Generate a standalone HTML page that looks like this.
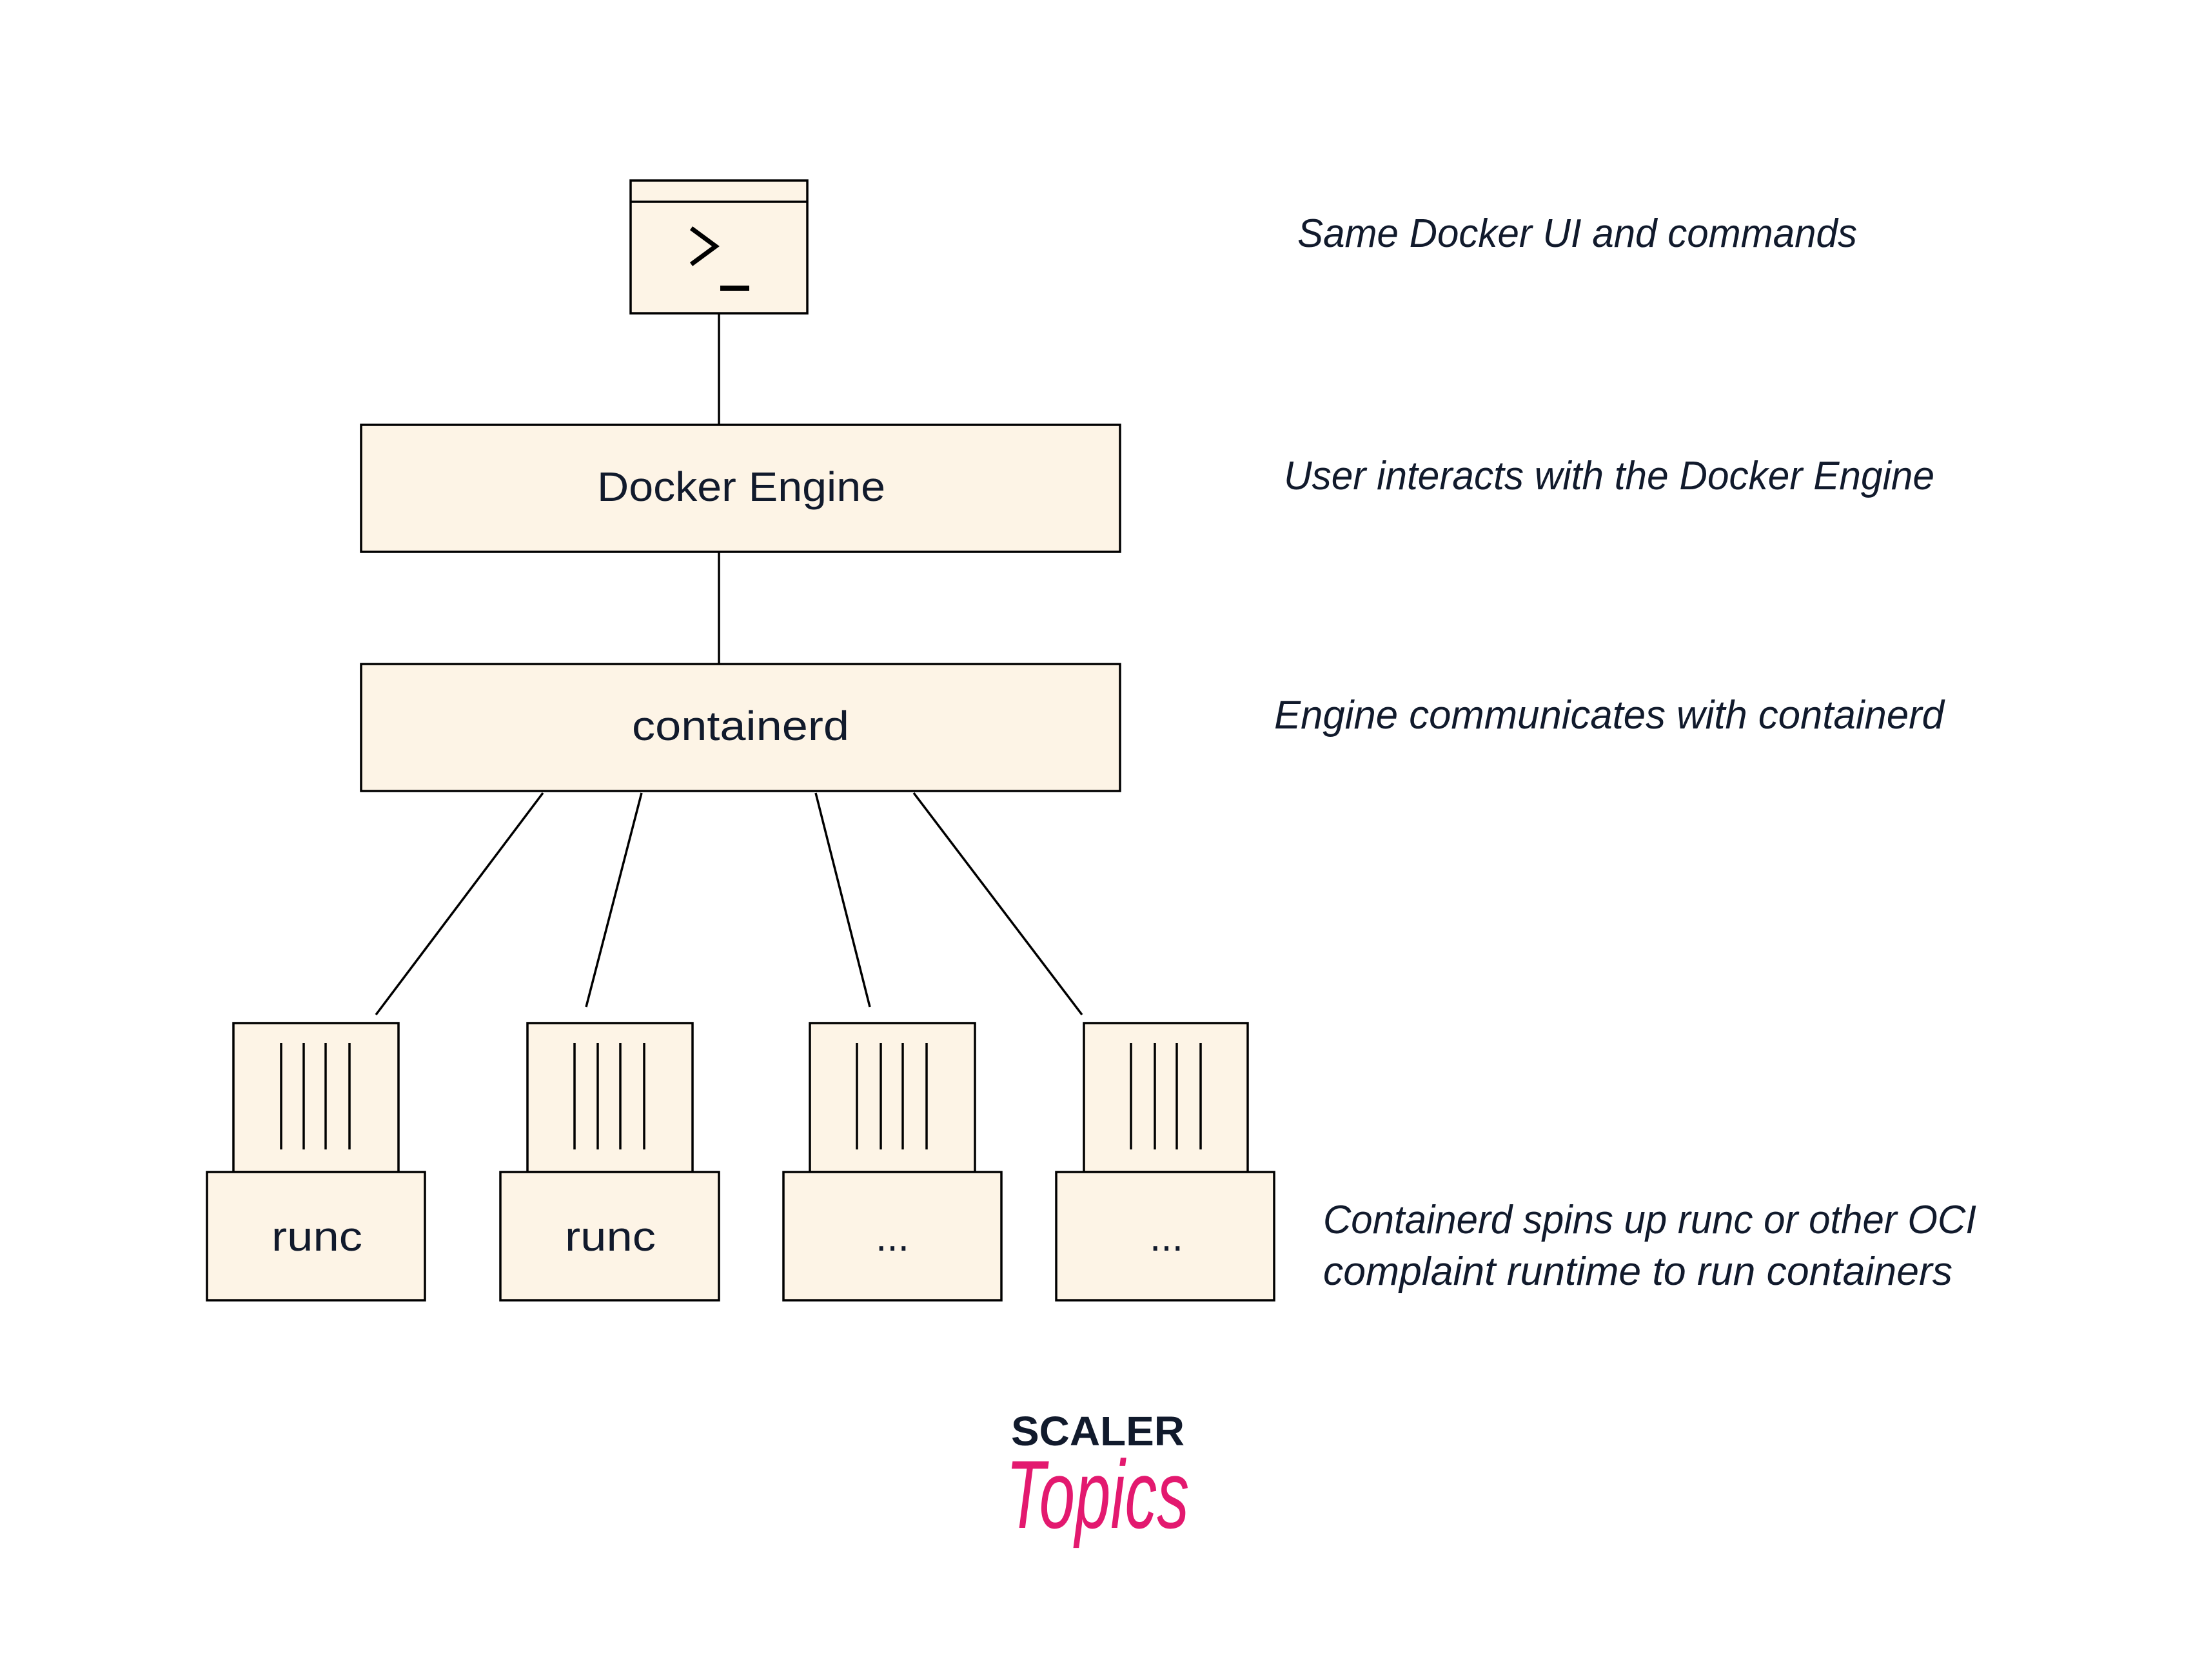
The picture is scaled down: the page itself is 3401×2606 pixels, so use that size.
<!DOCTYPE html>
<html><head><meta charset="utf-8"><style>
html,body{margin:0;padding:0;background:#fff;}
svg{display:block;}
text{font-family:"Liberation Sans",sans-serif;fill:#111a2c;}
</style></head><body>
<svg width="3401" height="2606" viewBox="0 0 3401 2606" xmlns="http://www.w3.org/2000/svg">
<g stroke="#000" stroke-width="3.5" fill="#fdf4e6">
  <line x1="1115" y1="486" x2="1115" y2="658"/>
  <line x1="1115" y1="856" x2="1115" y2="1029"/>
  <line x1="842" y1="1230" x2="583" y2="1574"/>
  <line x1="995" y1="1230" x2="909" y2="1562"/>
  <line x1="1265" y1="1230" x2="1349" y2="1562"/>
  <line x1="1417" y1="1230" x2="1678" y2="1574"/>
  <rect x="978" y="280" width="274" height="206"/>
  <line x1="978" y1="313" x2="1252" y2="313"/>
  <rect x="560" y="659" width="1177" height="197"/>
  <rect x="560" y="1030" width="1177" height="197"/>
  <rect x="362" y="1587" width="256" height="231"/>
  <rect x="321" y="1818" width="338" height="199"/>
  <rect x="818" y="1587" width="256" height="231"/>
  <rect x="776" y="1818" width="339" height="199"/>
  <rect x="1256" y="1587" width="256" height="231"/>
  <rect x="1215" y="1818" width="338" height="199"/>
  <rect x="1681" y="1587" width="254" height="231"/>
  <rect x="1638" y="1818" width="338" height="199"/>
</g>
<g stroke="#000" stroke-width="3.5">
  <line x1="436" y1="1618" x2="436" y2="1783"/><line x1="471" y1="1618" x2="471" y2="1783"/><line x1="505" y1="1618" x2="505" y2="1783"/><line x1="542" y1="1618" x2="542" y2="1783"/>
  <line x1="891" y1="1618" x2="891" y2="1783"/><line x1="927" y1="1618" x2="927" y2="1783"/><line x1="962" y1="1618" x2="962" y2="1783"/><line x1="999" y1="1618" x2="999" y2="1783"/>
  <line x1="1329" y1="1618" x2="1329" y2="1783"/><line x1="1366" y1="1618" x2="1366" y2="1783"/><line x1="1400" y1="1618" x2="1400" y2="1783"/><line x1="1437" y1="1618" x2="1437" y2="1783"/>
  <line x1="1754" y1="1618" x2="1754" y2="1783"/><line x1="1791" y1="1618" x2="1791" y2="1783"/><line x1="1825" y1="1618" x2="1825" y2="1783"/><line x1="1862" y1="1618" x2="1862" y2="1783"/>
</g>
<polyline points="1072,354 1110,382 1072,410" fill="none" stroke="#000" stroke-width="7"/>
<rect x="1117" y="443" width="45" height="8" fill="#000"/>
<text x="926" y="777" font-size="64" textLength="447" lengthAdjust="spacingAndGlyphs">Docker Engine</text>
<text x="980" y="1148" font-size="64" textLength="337" lengthAdjust="spacingAndGlyphs">containerd</text>
<text x="421" y="1940" font-size="64" textLength="141" lengthAdjust="spacingAndGlyphs">runc</text>
<text x="876" y="1940" font-size="64" textLength="141" lengthAdjust="spacingAndGlyphs">runc</text>
<text x="1358" y="1940" font-size="64" textLength="52" lengthAdjust="spacingAndGlyphs">...</text>
<text x="1783" y="1940" font-size="64" textLength="52" lengthAdjust="spacingAndGlyphs">...</text>
<g font-style="italic" font-size="62">
<text x="2012" y="383" textLength="868" lengthAdjust="spacingAndGlyphs">Same Docker UI and commands</text>
<text x="1991" y="759" textLength="1009" lengthAdjust="spacingAndGlyphs">User interacts with the Docker Engine</text>
<text x="1976" y="1130" textLength="1039" lengthAdjust="spacingAndGlyphs">Engine communicates with containerd</text>
<text x="2052" y="1913" textLength="1013" lengthAdjust="spacingAndGlyphs">Containerd spins up runc or other OCI</text>
<text x="2052" y="1993" textLength="976" lengthAdjust="spacingAndGlyphs">complaint runtime to run containers</text>
</g>
<text x="1568" y="2242" font-size="64" font-weight="bold" textLength="269" lengthAdjust="spacingAndGlyphs">SCALER</text>
<text x="1560" y="2370" font-family="Liberation Serif, serif" font-style="italic" font-size="150" style="fill:#e3196f" textLength="284" lengthAdjust="spacingAndGlyphs">Topics</text>
</svg>
</body></html>
